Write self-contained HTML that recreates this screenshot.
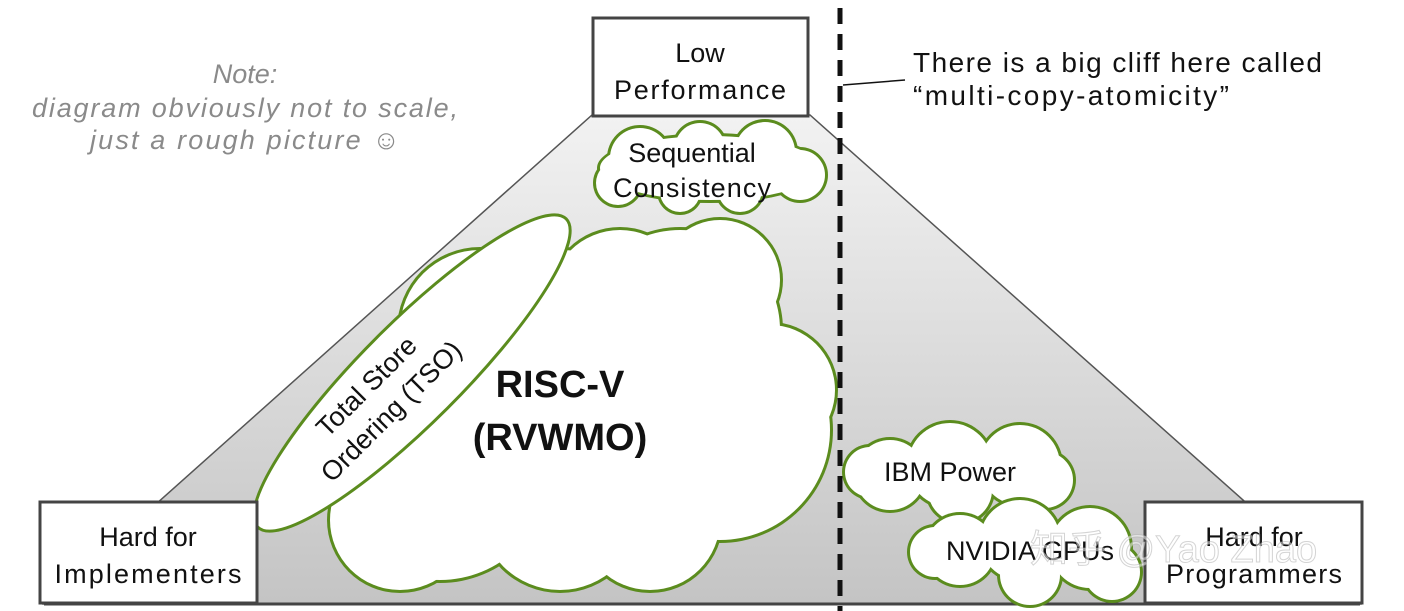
<!DOCTYPE html>
<html><head><meta charset="utf-8"><style>
body{margin:0;background:#fff}
svg{display:block}
text{font-family:"Liberation Sans","Noto Sans CJK SC",sans-serif}
</style></head><body>
<svg width="1404" height="611" viewBox="0 0 1404 611" xmlns="http://www.w3.org/2000/svg">
<defs>
<linearGradient id="g" x1="0" y1="0" x2="0" y2="1">
<stop offset="0" stop-color="#f2f2f2"/><stop offset="1" stop-color="#c4c4c4"/>
</linearGradient>
</defs>
<polygon points="592,115 810,115 1360,604 44,604" fill="url(#g)" stroke="#555" stroke-width="1.5"/>
<line x1="44" y1="604" x2="1360" y2="604" stroke="#444" stroke-width="3"/>

<!-- RISC-V cloud -->
<g fill="#5b8c1e">
<circle cx="440" cy="470" r="113"/><circle cx="560" cy="380" r="133"/><circle cx="680" cy="330" r="103"/><circle cx="720" cy="430" r="113"/><circle cx="620" cy="300" r="73"/><circle cx="560" cy="510" r="83"/><circle cx="400" cy="520" r="73"/><circle cx="650" cy="520" r="73"/><circle cx="770" cy="390" r="68"/><circle cx="480" cy="330" r="83"/><circle cx="720" cy="280" r="63"/>
</g>
<g fill="#fff">
<circle cx="440" cy="470" r="110"/><circle cx="560" cy="380" r="130"/><circle cx="680" cy="330" r="100"/><circle cx="720" cy="430" r="110"/><circle cx="620" cy="300" r="70"/><circle cx="560" cy="510" r="80"/><circle cx="400" cy="520" r="70"/><circle cx="650" cy="520" r="70"/><circle cx="770" cy="390" r="65"/><circle cx="480" cy="330" r="80"/><circle cx="720" cy="280" r="60"/>
</g>
<!-- TSO cloud -->
<ellipse cx="412" cy="373" rx="218" ry="50" transform="rotate(-45 412 373)" fill="#fff" stroke="#5b8c1e" stroke-width="3"/>
<!-- SC cloud -->
<g fill="#5b8c1e">
<ellipse cx="710" cy="168" rx="113" ry="35"/>
<circle cx="640" cy="158" r="33"/><circle cx="700" cy="148" r="28"/><circle cx="765" cy="152" r="33"/><circle cx="800" cy="175" r="28"/><circle cx="740" cy="190" r="25"/><circle cx="680" cy="192" r="23"/><circle cx="618" cy="183" r="25"/>
</g>
<g fill="#fff">
<ellipse cx="710" cy="168" rx="110" ry="32"/>
<circle cx="640" cy="158" r="30"/><circle cx="700" cy="148" r="25"/><circle cx="765" cy="152" r="30"/><circle cx="800" cy="175" r="25"/><circle cx="740" cy="190" r="22"/><circle cx="680" cy="192" r="20"/><circle cx="618" cy="183" r="22"/>
</g>
<!-- IBM cloud -->
<g fill="#5b8c1e">
<circle cx="890" cy="475" r="38"/><circle cx="950" cy="465" r="45"/><circle cx="1020" cy="465" r="43"/><circle cx="1045" cy="480" r="31"/><circle cx="960" cy="490" r="35"/><circle cx="870" cy="472" r="28"/>
</g>
<g fill="#fff">
<circle cx="890" cy="475" r="35"/><circle cx="950" cy="465" r="42"/><circle cx="1020" cy="465" r="40"/><circle cx="1045" cy="480" r="28"/><circle cx="960" cy="490" r="32"/><circle cx="870" cy="472" r="25"/>
</g>
<!-- NVIDIA cloud -->
<g fill="#5b8c1e">
<circle cx="960" cy="550" r="38"/><circle cx="1020" cy="540" r="43"/><circle cx="1090" cy="548" r="43"/><circle cx="1112" cy="572" r="31"/><circle cx="1030" cy="575" r="33"/><circle cx="935" cy="552" r="28"/>
</g>
<g fill="#fff">
<circle cx="960" cy="550" r="35"/><circle cx="1020" cy="540" r="40"/><circle cx="1090" cy="548" r="40"/><circle cx="1112" cy="572" r="28"/><circle cx="1030" cy="575" r="30"/><circle cx="935" cy="552" r="25"/>
</g>

<!-- dashed line -->
<line x1="840" y1="8" x2="840" y2="611" stroke="#111" stroke-width="5" stroke-dasharray="16 10"/>
<line x1="843" y1="85" x2="905" y2="80" stroke="#111" stroke-width="1.5"/>

<!-- boxes -->
<rect x="593" y="18" width="215" height="98" fill="#fff" stroke="#444" stroke-width="3"/>
<rect x="40" y="502" width="217" height="101" fill="#fff" stroke="#444" stroke-width="3"/>
<rect x="1145" y="502" width="217" height="101" fill="#fff" stroke="#444" stroke-width="3"/>

<g font-size="27" fill="#111" text-anchor="middle">
<text x="700" y="62">Low</text>
<text x="700" y="99" textLength="172">Performance</text>
<text x="148" y="546">Hard for</text>
<text x="148" y="583" textLength="187">Implementers</text>
<text x="1254" y="546">Hard for</text>
<text x="1254" y="583" textLength="176">Programmers</text>
<text x="692" y="162">Sequential</text>
<text x="692" y="197" textLength="158">Consistency</text>
<text x="950" y="481">IBM Power</text>
<text x="1030" y="560">NVIDIA GPUs</text>
</g>
<g font-size="27" fill="#111" text-anchor="middle" transform="rotate(-45 380 400)">
<text x="380" y="390">Total Store</text>
<text x="380" y="425">Ordering (TSO)</text>
</g>
<g font-size="38" font-weight="bold" fill="#111" text-anchor="middle">
<text x="560" y="397">RISC-V</text>
<text x="560" y="450">(RVWMO)</text>
</g>
<g font-size="27" font-style="italic" fill="#8a8a8a" text-anchor="middle">
<text x="245" y="83">Note:</text>
<text x="245" y="117" textLength="426">diagram obviously not to scale,</text>
<text x="245" y="149" textLength="310">just a rough picture ☺</text>
</g>
<g font-size="28" fill="#111">
<text x="913" y="72" textLength="409">There is a big cliff here called</text>
<text x="913" y="105" textLength="316">“multi-copy-atomicity”</text>
</g>
<text x="1030" y="562" font-size="38" fill="#fff" fill-opacity="0.5" stroke="#aaa" stroke-opacity="0.5" stroke-width="1">知乎 @Yao Zhao</text>
</svg>
</body></html>
